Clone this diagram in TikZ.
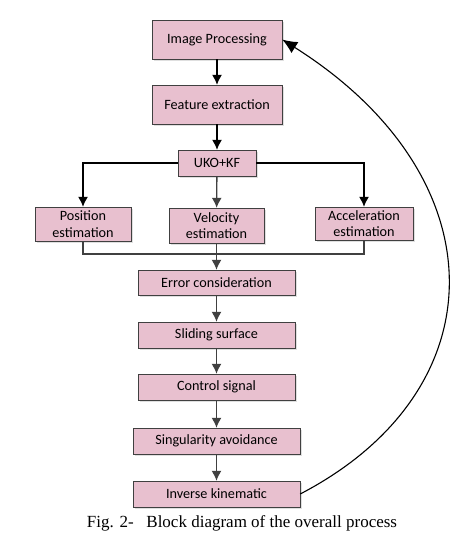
\documentclass[tikz,border=0pt]{standalone}
\usepackage{fontspec}
\setmainfont{Carlito}
\newfontfamily\capfont{Liberation Serif}
\usetikzlibrary{shadows,arrows.meta}
\definecolor{boxpink}{RGB}{232,192,207}
\definecolor{linegray}{RGB}{64,64,64}

\begin{document}
\begin{tikzpicture}[x=1pt,y=-1pt,
   blk/.style={draw=linegray,fill=boxpink,inner sep=0pt,align=center,
     font=\fontsize{14.2}{16.5}\selectfont,
     drop shadow={shadow xshift=1.5pt,shadow yshift=-1.5pt,fill=gray!50}},
   arr/.style={line width=1.3pt,-{Latex[length=10pt,width=10pt]}},
   garr/.style={arr,draw=linegray}]
   \useasboundingbox (0,0) rectangle (474,552);
   \node[blk,minimum width=130,minimum height=39] (img) at (217,39.5) {Image Processing};
   \node[blk,minimum width=130,minimum height=39] (feat) at (217,104.5) {Feature extraction};
   \node[blk,minimum width=78,minimum height=26] (uko) at (217,163) {UKO+KF};
   \node[blk,minimum width=96,minimum height=34] (pos) at (83,224) {Position\\estimation};
   \node[blk,minimum width=95,minimum height=35] (vel) at (216.5,225.5) {Velocity\\estimation};
   \node[blk,minimum width=98,minimum height=33] (acc) at (364,223.5) {Acceleration\\estimation};
   \node[blk,minimum width=157,minimum height=25] (err) at (216.5,282.5) {Error consideration};
   \node[blk,minimum width=157,minimum height=26] (slide) at (216.5,335) {Sliding surface};
   \node[blk,minimum width=157,minimum height=26] (ctrl) at (216.5,387) {Control signal};
   \node[blk,minimum width=167,minimum height=26] (sing) at (216.5,441) {Singularity avoidance};
   \node[blk,minimum width=167,minimum height=26] (inv) at (216.5,494) {Inverse kinematic};
   \node[font=\capfont\fontsize{17}{19}\selectfont] (cap) at (242,523) {Fig. 2-\ \ \ Block diagram of the overall process};
   % top chain
   \draw[arr] (img) -- (feat);
   \draw[arr] (feat) -- (uko);
   \draw[arr] (uko.west) -| (pos.north);
   \draw[arr] (uko.east) -| (acc.north);
   \draw[garr] (uko) -- (vel);
   % join the three estimates
   \draw[line width=1.3pt,linegray] (pos.south) |- (83,254) -- (364,254) -- (acc.south);
   \draw[garr] (vel) -- (err);
   \draw[garr] (err) -- (slide);
   \draw[garr] (slide) -- (ctrl);
   \draw[garr] (ctrl) -- (sing);
   \draw[garr] (sing) -- (inv);
   % feedback
   \draw[line width=1.1pt,-{Latex[length=15pt,width=13pt]}] (inv.east) .. controls (500,390) and (500,177) .. (img.east);
\end{tikzpicture}
\end{document}
